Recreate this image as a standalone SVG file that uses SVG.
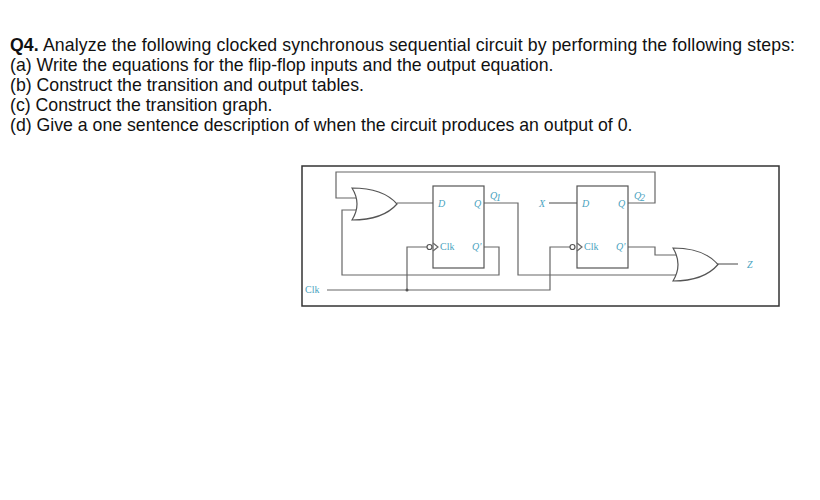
<svg xmlns="http://www.w3.org/2000/svg" width="820" height="500" viewBox="0 0 820 500">
<style>
.t{font-family:"Liberation Sans",Arial,sans-serif;font-size:17.7px;fill:#111}
.w{fill:none;stroke:#666;stroke-width:1.2}
.b{fill:#fff;stroke:#555;stroke-width:1.2}
.l{font-family:"Liberation Serif",serif;font-style:italic;font-size:10px;fill:#4aa3c0}
.c{font-family:"Liberation Serif",serif;font-size:10px;fill:#4aa3c0}
</style>
<rect width="820" height="500" fill="#fff"/>
<g id="text">
<text class="t" x="10" y="51" textLength="785"><tspan font-weight="bold">Q4.</tspan> Analyze the following clocked synchronous sequential circuit by performing the following steps:</text>
<text class="t" x="10" y="71">(a) Write the equations for the flip-flop inputs and the output equation.</text>
<text class="t" x="10" y="91">(b) Construct the transition and output tables.</text>
<text class="t" x="10" y="111">(c) Construct the transition graph.</text>
<text class="t" x="10" y="131">(d) Give a one sentence description of when the circuit produces an output of 0.</text>
</g>
<rect x="302" y="166" width="477" height="140" fill="none" stroke="#333" stroke-width="1.5"/>
<g id="connectors">
<polyline class="w" points="625,203 655,203 655,172 336,172 336,198 356,198"/>
<polyline class="w" points="356,210 342,210 342,275 499,275 499,247 484,247"/>
<polyline class="w" points="397,203 433,203"/>
<polyline class="w" points="484,203 518,203 518,275 677,275"/>
<polyline class="w" points="549,203 577,203"/>
<polyline class="w" points="327,290 550,290 550,247 570,247"/>
<polyline class="w" points="407,290 407,247 427,247"/>
<polyline class="w" points="628,247 655,247 655,255 677,255"/>
<polyline class="w" points="718,264 738,264"/>
<circle cx="407" cy="290" r="1.5" fill="#555"/>
</g>
<g id="or1"><path class="b" d="M352,188 Q383,188 397,204 Q383,220 352,220 Q362,204 352,188Z"/></g>
<g id="ff1">
<rect class="b" x="433" y="186" width="51" height="82"/>
<circle cx="429.5" cy="247" r="2.5" class="b"/>
<path class="w" d="M433,243 L438,247 L433,251"/>
<text class="l" x="438" y="207">D</text><text class="l" x="474" y="207">Q</text>
<text class="c" x="440" y="250">Clk</text><text class="l" x="472" y="250">Q'</text>
<text class="l" x="490" y="199">Q</text><text class="l" x="496" y="201" font-size="7">1</text>
</g>
<g id="ff2">
<rect class="b" x="577" y="186" width="51" height="82"/>
<circle cx="572.5" cy="247" r="2.5" class="b"/>
<path class="w" d="M577,243 L582,247 L577,251"/>
<text class="l" x="582" y="207">D</text><text class="l" x="618" y="207">Q</text>
<text class="c" x="584" y="250">Clk</text><text class="l" x="616" y="250">Q'</text>
<text class="l" x="634" y="199">Q</text><text class="l" x="640" y="201" font-size="7">2</text>
</g>
<g id="or2"><path class="b" d="M673,248 Q704,248 718,264.5 Q704,281 673,281 Q683,264.5 673,248Z"/></g>
<text class="l" x="539" y="207">X</text>
<text class="l" x="747" y="268">Z</text>
<text class="c" x="305" y="293">Clk</text>
</svg>
